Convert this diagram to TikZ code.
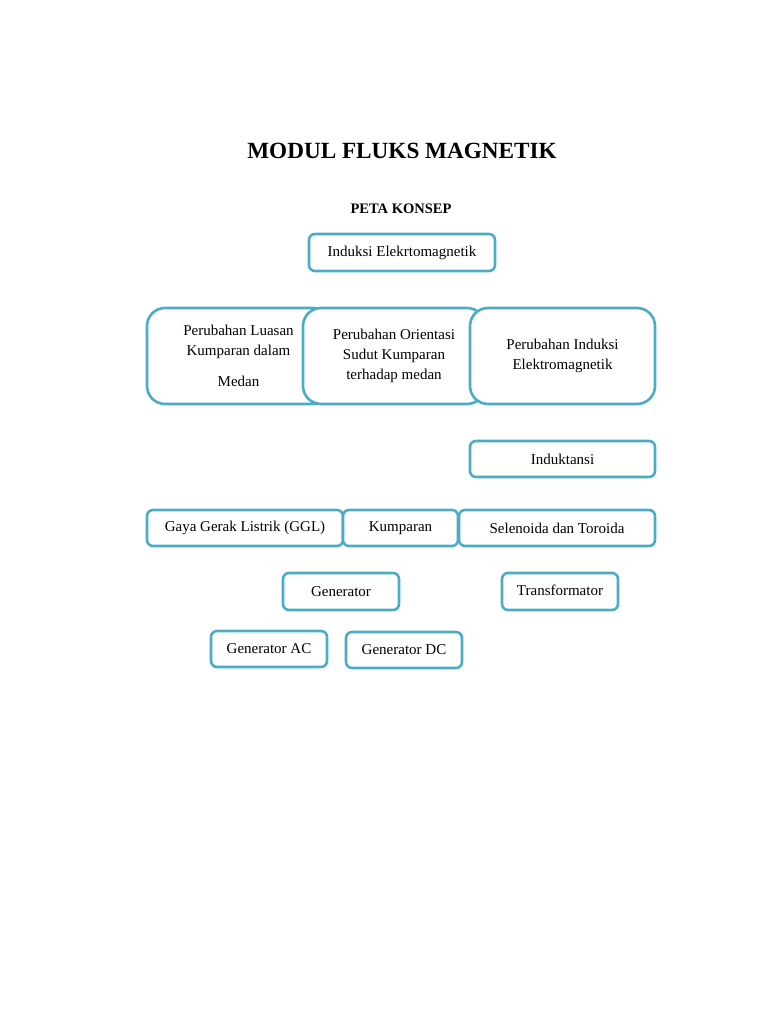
\documentclass[tikz,border=0pt]{standalone}
\usepackage{fontspec}
\setmainfont{Liberation Serif}
\definecolor{boxblue}{HTML}{4BACC6}
\begin{document}
\begin{tikzpicture}[x=1pt,y=-1pt,
  box/.style={draw=boxblue, line width=2.6pt, fill=white, rounded corners=6pt,
    inner sep=0pt, align=center, font=\fontsize{15}{20}\selectfont},
  bigbox/.style={box, rounded corners=18pt, minimum height=96pt},
  title/.style={font=\bfseries\fontsize{23.2}{26}\selectfont},
  subtitle/.style={font=\bfseries\fontsize{14.5}{17}\selectfont}]
\useasboundingbox (0,0) rectangle (768,1024);
\node[title] (t) at (402,151) {MODUL FLUKS MAGNETIK};
\node[subtitle] (st) at (401,209) {PETA KONSEP};
\node[box, minimum width=186pt, minimum height=37pt] (ie) at (402,252.5) {\raisebox{-1.5pt}{Induksi Elekrtomagnetik}};
\node[bigbox, minimum width=183pt] (pl) at (238.5,356) {Perubahan Luasan\\Kumparan dalam\\[11pt]Medan};
\node[bigbox, minimum width=182pt] (po) at (394,356) {Perubahan Orientasi\\Sudut Kumparan\\terhadap medan};
\node[bigbox, minimum width=185pt] (pi) at (562.5,356) {Perubahan Induksi\\Elektromagnetik};
\node[box, minimum width=185pt, minimum height=36pt] (ind) at (562.5,459) {\raisebox{-1.5pt}{Induktansi}};
\node[box, minimum width=196pt, minimum height=36pt] (ggl) at (245,528) {\raisebox{-1.5pt}{Gaya Gerak Listrik (GGL)}};
\node[box, minimum width=115pt, minimum height=36pt] (kum) at (400.5,528) {\raisebox{-1.5pt}{Kumparan}};
\node[box, minimum width=196pt, minimum height=36pt] (sel) at (557,528) {\raisebox{-1.5pt}{Selenoida dan Toroida}};
\node[box, minimum width=116pt, minimum height=37pt] (gen) at (341,591.5) {\raisebox{-1.5pt}{Generator}};
\node[box, minimum width=116pt, minimum height=37pt] (tr) at (560,591.5) {\raisebox{2.5pt}{Transformator}};
\node[box, minimum width=116pt, minimum height=36pt] (gac) at (269,649) {\raisebox{-1pt}{Generator AC}};
\node[box, minimum width=116pt, minimum height=36pt] (gdc) at (404,650) {\raisebox{-1pt}{Generator DC}};
\end{tikzpicture}
\end{document}
